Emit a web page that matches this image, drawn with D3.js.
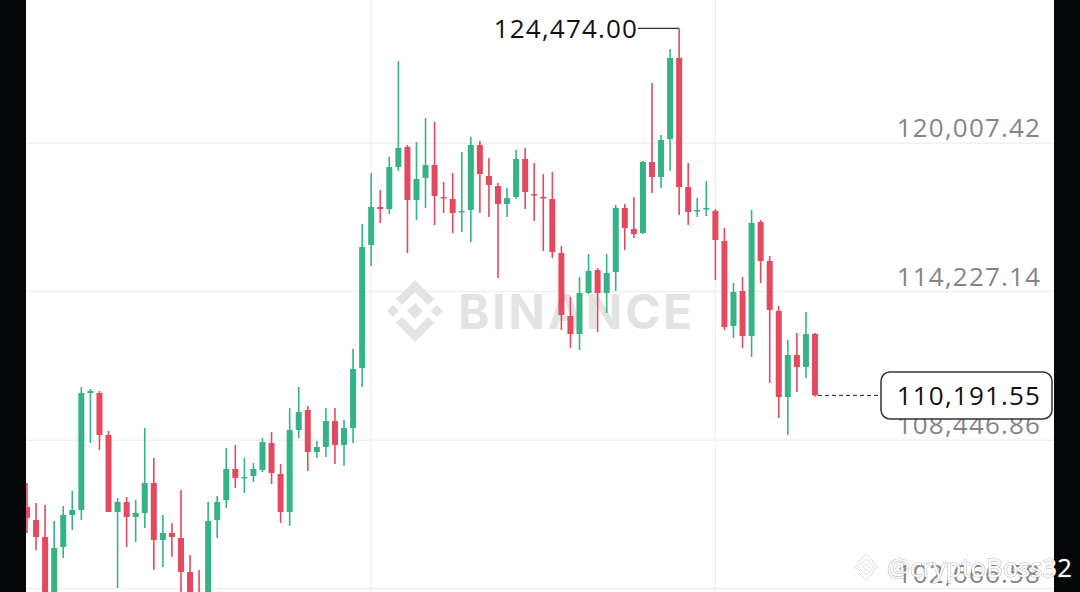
<!DOCTYPE html>
<html><head><meta charset="utf-8">
<script src="https://cdn.jsdelivr.net/npm/d3@7"></script>
<style>html,body{margin:0;padding:0;background:#fff;overflow:hidden}svg{display:block}</style>
</head><body>
<svg id="c" width="1080" height="592"></svg>
<script>
const openV=[105848,105342,104680,102111,104291,105536,105731,110284,110284,108650,
105653,106042,105458,105614,106782,104563,104836,104641,103318,102345,
101644,105342,106120,107327,106976,107054,107288,108338,107132,105653,
108844,109623,107988,108183,109195,108261,108922,111257,116045,117524,
117446,119080,119859,117796,118652,119158,117913,117835,117329,117407,
119937,118730,118341,117640,117913,119392,118030,117913,117835,115733,
113281,112581,114176,115072,114176,114994,117485,116667,116512,119275,
118691,120170,123323,118302,117368,117446,117368,116200,112892,114254,
112503,116940,115422,113476,110129,111763,111296,112581];
const highV=[106782,106003,105925,105303,105886,106470,110518,110440,110362,108805,
106198,106237,106120,108922,107755,105536,105225,106509,103979,103396,
106042,106276,108144,108261,107755,107560,108533,108767,107521,109701,
110518,109779,108416,109701,109701,109234,111997,116862,118847,118185,
119470,123206,119937,120053,120987,120832,118497,118847,119664,120248,
120092,119431,118458,118263,119742,119820,119236,118808,118886,116006,
114021,114799,115694,115149,115694,117601,117640,117913,119314,122350,
120326,123673,124474,119236,117874,118536,117446,116706,114566,114799,
117407,117018,115617,113671,112347,112620,113437,112620];
const lowV=[104836,104174,101839,101644,103863,104952,105342,108338,108066,105653,
102695,104291,104485,105030,103396,103512,103902,102539,101839,101255,
101255,104641,105809,106587,106392,106821,107210,106743,105225,105108,
108533,107249,107755,107794,107521,107443,108338,110518,115227,116901,
117251,118925,115733,117018,117485,116823,117290,116512,116551,116161,
117290,117134,114760,117134,117835,117446,116979,115811,115539,112736,
112036,111958,114138,112659,113398,114254,115850,116317,116473,118068,
118263,118925,117212,116823,117134,117173,114682,112736,112425,112036,
111686,114566,110674,109311,108650,110323,110868,110150];
const closeV=[105419,104680,102033,104252,105536,105731,110284,110362,108650,105653,
106042,105458,105614,106782,104563,104836,104680,103318,102423,101450,
105303,106042,107327,106976,107015,107327,108377,107171,105653,108844,
109545,107988,108183,109195,108261,108922,111219,115967,117524,117446,
119080,119820,117796,118613,119158,117952,117874,117290,117368,119937,
118808,118380,117640,117874,119392,118107,117991,117874,115772,113320,
112581,114176,115033,114176,114955,117485,116706,116473,119275,118691,
120131,123323,118302,117329,117407,117485,116239,112853,114215,112503,
116901,115422,113515,110129,111763,111296,112581,110191.55];
const yTickValues=[120007.42,114227.14,108446.86,102666.58];
const timeGridIdx=[38,76];
const lastPrice=110191.55;
const peakPrice=124474.00;
const peakIdx=72;

const UP='#35b384', DOWN='#e34a5f';
const svg=d3.select('#c');
const n=openV.length;
const x=d3.scaleLinear().domain([0,n-1]).range([27,815]);
const y=d3.scaleLinear().domain([102666.58,120007.42]).range([588.7,143.2]);
const fmt=d3.format(',.2f');
const FONT='"Open Sans", "Noto Sans", sans-serif';
const LS=1.2;

// grid
const g=svg.append('g');
g.selectAll('line.h').data(yTickValues).join('line')
 .attr('x1',26).attr('x2',1054).attr('y1',d=>y(d)).attr('y2',d=>y(d))
 .attr('stroke','#ededed').attr('stroke-width',1.2);
g.selectAll('line.v').data(timeGridIdx).join('line')
 .attr('x1',d=>x(d)).attr('x2',d=>x(d)).attr('y1',0).attr('y2',592)
 .attr('stroke','#f0f0f0').attr('stroke-width',1.2);

// watermark
function binLogo(sel,cx,cy,s,fill,stroke){
  const gg=sel.append('g').attr('transform',`translate(${cx},${cy}) scale(${s})`);
  const polys=[
    [[0,-8],[8,0],[0,8],[-8,0]],
    [[-22,-6],[-16,0],[-22,6],[-28,0]],
    [[22,-6],[28,0],[22,6],[16,0]],
    [[0,-31],[19,-12],[13,-6],[0,-19],[-13,-6],[-19,-12]],
    [[0,31],[19,12],[13,6],[0,19],[-13,6],[-19,12]]
  ];
  gg.selectAll('path').data(polys).join('path')
    .attr('d',p=>'M'+p.map(q=>q.join(',')).join('L')+'Z')
    .attr('fill',fill).attr('stroke',stroke||'none').attr('stroke-width',stroke?1.5:0);
}
binLogo(svg,415,311,1,'#e3e3e3');
svg.append('text').attr('x',458).attr('y',329).text('BINANCE')
 .attr('font-family','Inter, "Open Sans", sans-serif').attr('font-weight',700)
 .attr('font-size',48).attr('letter-spacing',3).attr('fill','#e3e3e3')
 .attr('textLength',237).attr('lengthAdjust','spacingAndGlyphs');

// candles
const data=d3.range(n).map(i=>({i,o:openV[i],h:highV[i],l:lowV[i],c:closeV[i]}));
const cg=svg.append('g');
cg.selectAll('line.w').data(data).join('line')
 .attr('x1',d=>x(d.i)).attr('x2',d=>x(d.i)).attr('y1',d=>y(d.h)).attr('y2',d=>y(d.l))
 .attr('stroke',d=>d.c>=d.o?UP:DOWN).attr('stroke-width',1.6);
cg.selectAll('rect').data(data).join('rect')
 .attr('x',d=>x(d.i)-3).attr('width',6)
 .attr('y',d=>Math.min(y(d.o),y(d.c)))
 .attr('height',d=>Math.max(1.5,Math.abs(y(d.o)-y(d.c))))
 .attr('fill',d=>d.c>=d.o?UP:DOWN);

// y labels
svg.selectAll('text.yl').data(yTickValues).join('text')
 .attr('x',1040+LS).attr('y',d=>y(d)-6).attr('text-anchor','end')
 .attr('font-family',FONT).attr('font-size',26).attr('letter-spacing',LS).attr('fill','#858585')
 .text(d=>fmt(d));

// peak label
const px=x(peakIdx), py=y(peakPrice);
svg.append('line').attr('x1',638).attr('x2',px).attr('y1',py).attr('y2',py)
 .attr('stroke','#333').attr('stroke-width',1.2);
svg.append('text').attr('x',637+LS).attr('y',py).attr('dy','0.36em').attr('text-anchor','end')
 .attr('font-family',FONT).attr('font-size',26).attr('letter-spacing',LS).attr('fill','#111').text(fmt(peakPrice));

// last price
const ly=y(lastPrice);
svg.append('line').attr('x1',x(n-1)+3).attr('x2',881).attr('y1',ly).attr('y2',ly)
 .attr('stroke','#222').attr('stroke-width',1).attr('stroke-dasharray','4,3');
svg.append('rect').attr('x',881).attr('y',372).attr('width',171).attr('height',47).attr('rx',9)
 .attr('fill','#fff').attr('stroke','#333').attr('stroke-width',1.5);
svg.append('text').attr('x',1040+LS).attr('y',ly).attr('dy','0.36em').attr('text-anchor','end')
 .attr('font-family',FONT).attr('font-size',26).attr('letter-spacing',LS).attr('fill','#111').text(fmt(lastPrice));

// borders
svg.append('rect').attr('x',0).attr('y',0).attr('width',26).attr('height',592).attr('fill','#050608');
svg.append('rect').attr('x',1054).attr('y',0).attr('width',26).attr('height',592).attr('fill','#050608');

// user watermark
binLogo(svg,866,567,0.42,'#ffffff','#c8c8c8');
svg.append('text').attr('x',887).attr('y',577).text('@cryptoBoss32')
 .attr('font-family',FONT).attr('font-size',26).attr('fill','#ffffff')
 .attr('textLength',185).attr('lengthAdjust','spacingAndGlyphs')
 .attr('stroke','rgba(120,120,120,0.55)').attr('stroke-width',1.2).attr('paint-order','stroke');
</script>
</body></html>
